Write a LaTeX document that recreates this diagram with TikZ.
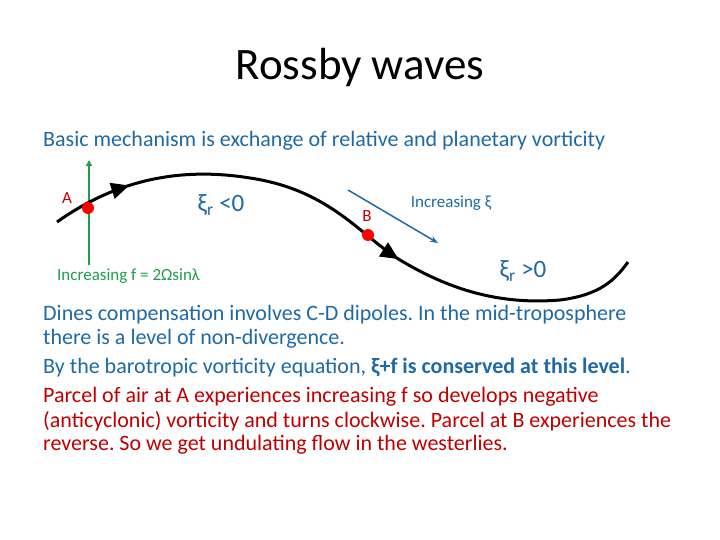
\documentclass[tikz,border=0pt]{standalone}
\usepackage{fontspec}
\setmainfont{Carlito}
\usetikzlibrary{arrows.meta,decorations.markings}
\definecolor{tb}{HTML}{1F6AA5}
\definecolor{tr}{HTML}{C00000}
\definecolor{tg}{HTML}{1E9E4A}
\frenchspacing
\begin{document}
\begin{tikzpicture}[x=1pt,y=-1pt,
  body/.style={anchor=west,inner sep=0pt,font=\fontsize{22}{26}\selectfont\frenchspacing},
  lab/.style={inner sep=0pt,font=\fontsize{17}{20}\selectfont},
  dot/.style={circle,fill=red,inner sep=0pt,minimum width=10pt,minimum height=12pt}]
\fill[white] (0,0) rectangle (720,540);
\useasboundingbox (0,0) rectangle (720,540);
\node[inner sep=0pt,font=\fontsize{45}{50}\selectfont] (title) at (360,68) {Rossby waves};
\node[body,text=tb] (l0) at (43,141) {Basic mechanism is exchange of relative and planetary vorticity};
% green arrow
\coordinate (gb) at (89,265);
\coordinate (gt) at (89,160);
\draw[tg,line width=1.5pt,-{Triangle[length=6pt,width=6pt]}] (gb) -- (gt);
% wave
\draw[line width=3pt,
  postaction={decorate,decoration={markings,
   mark=at position 0.13 with {\arrow{Triangle[length=18pt,width=16pt]}},
   mark=at position 0.6 with {\arrow{Triangle[length=18pt,width=16pt]}}}}]
  (57,222) .. controls (130,170) and (200,170) .. (250,178)
  .. controls (330,190) and (360,235) .. (400,260)
  .. controls (450,290) and (500,305) .. (560,300)
  .. controls (600,295) and (615,280) .. (628,262);
\node[dot] (A) at (88,208) {};
\node[dot] (B) at (368,235) {};
\node[lab,text=tr] (Al) at (67,198) {A};
\node[lab,text=tr] (Bl) at (367,216) {B};
\node[inner sep=0pt,text=tb,font=\fontsize{25}{28}\selectfont] (x1) at (221,205) {ξ$_{\mathrm r}$ <0};
\node[inner sep=0pt,text=tb,font=\fontsize{25}{28}\selectfont] (x2) at (523,271) {ξ$_{\mathrm r}$ >0};
\coordinate (bs) at (348,190);
\coordinate (be) at (438,243);
\draw[tb,line width=1.5pt,-{Stealth[length=8pt,width=6pt]}] (bs) -- (be);
\node[lab,text=tb] (inc) at (451,203) {Increasing ξ};
\node[lab,text=tg,anchor=west] (incf) at (57,276) {Increasing f = 2Ωsinλ};
\node[body,text=tb] (l1) at (43,315) {Dines compensation involves C-D dipoles. In the mid-troposphere};
\node[body,text=tb] (l2) at (43,339) {there is a level of non-divergence.};
\node[body,text=tb] (l3) at (43,368) {By the barotropic vorticity equation, \textbf{ξ+f is conserved at this level}.};
\node[body,text=tr] (l4) at (43,397) {Parcel of air at A experiences increasing f so develops negative};
\node[body,text=tr] (l5) at (43,421) {(anticyclonic) vorticity and turns clockwise. Parcel at B experiences the};
\node[body,text=tr] (l6) at (43,445) {reverse. So we get undulating flow in the westerlies.};
\end{tikzpicture}
\end{document}
